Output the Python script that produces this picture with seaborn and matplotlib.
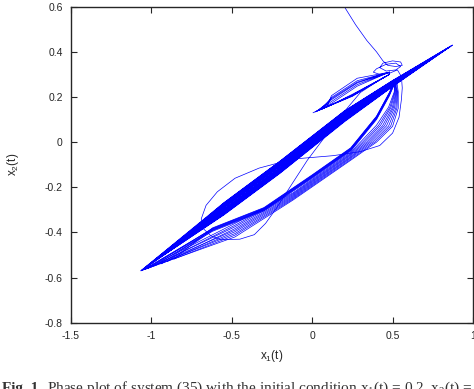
import matplotlib
matplotlib.use("Agg")
import matplotlib.pyplot as plt
import seaborn as sns

# ---------------- data ----------------
# main (dense) band: hairpins between lower-left tip and upper-right tip
main_mid_x = [-0.55, -0.20, 0.20, 0.50]
main_ll_x = [-1.065, -1.03, -0.99, -1.05, -0.95, -1.01, -0.92, -1.04, -0.97, -0.88, -1.06, -1.00]
main_ll_y = [-0.570, -0.552, -0.532, -0.562, -0.512, -0.542, -0.497, -0.557, -0.522, -0.477, -0.567, -0.537]
main_ur_x = [0.873, 0.84, 0.80, 0.86, 0.76, 0.82, 0.70, 0.85, 0.78, 0.66, 0.87, 0.81]
main_ur_y = [0.430, 0.415, 0.397, 0.424, 0.379, 0.406, 0.351, 0.420, 0.388, 0.333, 0.429, 0.401]
main_up_y = [
    [-0.273, -0.088, 0.135, 0.271],
    [-0.284, -0.099, 0.125, 0.266],
    [-0.278, -0.093, 0.130, 0.268],
    [-0.289, -0.104, 0.120, 0.263],
    [-0.270, -0.085, 0.137, 0.272],
    [-0.286, -0.101, 0.123, 0.264],
    [-0.281, -0.096, 0.128, 0.267],
    [-0.275, -0.090, 0.133, 0.270],
    [-0.292, -0.107, 0.118, 0.262],
    [-0.282, -0.097, 0.126, 0.266],
    [-0.269, -0.084, 0.138, 0.273],
    [-0.288, -0.103, 0.121, 0.264],
]
main_down_y = [
    [-0.316, -0.131, 0.097, 0.250],
    [-0.305, -0.120, 0.107, 0.255],
    [-0.321, -0.136, 0.093, 0.247],
    [-0.300, -0.115, 0.111, 0.258],
    [-0.310, -0.125, 0.102, 0.252],
    [-0.318, -0.133, 0.095, 0.248],
    [-0.302, -0.117, 0.109, 0.256],
    [-0.313, -0.128, 0.099, 0.251],
    [-0.308, -0.123, 0.104, 0.254],
    [-0.297, -0.112, 0.113, 0.259],
    [-0.323, -0.138, 0.090, 0.246],
    [-0.306, -0.121, 0.105, 0.254],
]

# lower (hatched) band: hairpins turning in the arch near (0.52, 0.27)
lower_start_x = [-1.06, -0.98, -1.02, -0.90, -1.04, -0.94, -1.00, -0.86, -1.05]
lower_start_y = [-0.569, -0.548, -0.559, -0.528, -0.564, -0.539, -0.553, -0.518, -0.566]
lower_left_x = [-0.62, -0.30, 0.00, 0.24, 0.40, 0.48]
lower_left_y = [
    [-0.385, -0.295, -0.150, -0.030, 0.110, 0.215],
    [-0.389, -0.299, -0.154, -0.034, 0.106, 0.211],
    [-0.382, -0.292, -0.147, -0.027, 0.113, 0.218],
    [-0.392, -0.302, -0.157, -0.037, 0.103, 0.208],
    [-0.383, -0.293, -0.148, -0.028, 0.112, 0.217],
    [-0.387, -0.297, -0.152, -0.032, 0.108, 0.213],
    [-0.395, -0.305, -0.160, -0.040, 0.100, 0.205],
    [-0.380, -0.290, -0.145, -0.025, 0.115, 0.220],
    [-0.390, -0.300, -0.155, -0.035, 0.105, 0.210],
]
lower_top_x = [0.515, 0.510, 0.520, 0.505, 0.518, 0.512, 0.522, 0.508, 0.525]
lower_top_y = [0.272, 0.268, 0.274, 0.265, 0.270, 0.270, 0.276, 0.266, 0.275]
lower_right = [
    [(0.510, 0.222), (0.475, 0.155), (0.400, 0.075), (0.300, 0.0), (0.240, -0.045), (-0.120, -0.225), (-0.480, -0.360)],
    [(0.513, 0.222), (0.483, 0.154), (0.413, 0.074), (0.313, 0.0), (0.240, -0.050), (-0.120, -0.229), (-0.480, -0.368)],
    [(0.516, 0.222), (0.490, 0.154), (0.425, 0.074), (0.325, 0.0), (0.240, -0.054), (-0.120, -0.233), (-0.480, -0.375)],
    [(0.520, 0.222), (0.498, 0.153), (0.438, 0.073), (0.338, 0.0), (0.240, -0.058), (-0.120, -0.237), (-0.480, -0.383)],
    [(0.523, 0.222), (0.505, 0.153), (0.450, 0.073), (0.350, 0.0), (0.240, -0.063), (-0.120, -0.241), (-0.480, -0.390)],
    [(0.526, 0.222), (0.512, 0.152), (0.462, 0.072), (0.362, 0.0), (0.240, -0.067), (-0.120, -0.245), (-0.480, -0.397)],
    [(0.529, 0.222), (0.520, 0.151), (0.475, 0.071), (0.375, 0.0), (0.240, -0.071), (-0.120, -0.249), (-0.480, -0.405)],
    [(0.532, 0.222), (0.527, 0.151), (0.488, 0.071), (0.388, 0.0), (0.240, -0.076), (-0.120, -0.253), (-0.480, -0.412)],
    [(0.535, 0.222), (0.535, 0.150), (0.500, 0.070), (0.400, 0.0), (0.240, -0.080), (-0.120, -0.257), (-0.480, -0.420)],
]

# small feather pointing to (0, 0.13)
feather_tip_x = [0.005, 0.030, 0.060, 0.020, 0.090, 0.045]
feather_tip_y = [0.130, 0.138, 0.146, 0.134, 0.155, 0.142]
feather_low_y = [0.203, 0.206, 0.209, 0.205, 0.212, 0.208]   # at x = 0.25
feather_up1_y = [0.172, 0.188, 0.198, 0.180, 0.206, 0.193]   # at x = 0.12
feather_up2_y = [0.248, 0.262, 0.272, 0.255, 0.283, 0.266]   # at x = 0.28

# transient from the initial condition
trans_x = [0.20, 0.27, 0.34, 0.40, 0.44, 0.47, 0.52, 0.56, 0.55, 0.50, 0.44, 0.42, 0.46, 0.52,
           0.55, 0.52, 0.46, 0.40, 0.38, 0.42, 0.48, 0.53, 0.555, 0.56, 0.555, 0.54, 0.50, 0.42,
           0.30, 0.13, -0.12, -0.33, -0.48, -0.59, -0.66, -0.69, -0.675, -0.63, -0.57, -0.45,
           -0.36, -0.29, -0.22, -0.13, -0.03, 0.17, 0.30, 0.45]
trans_y = [0.60, 0.52, 0.45, 0.40, 0.36, 0.34, 0.335, 0.34, 0.355, 0.36, 0.35, 0.33, 0.315, 0.32,
           0.335, 0.35, 0.345, 0.325, 0.31, 0.30, 0.305, 0.32, 0.29, 0.24, 0.19, 0.11, 0.04, -0.015,
           -0.042, -0.06, -0.075, -0.115, -0.16, -0.22, -0.28, -0.34, -0.385, -0.415, -0.432, -0.43,
           -0.41, -0.36, -0.29, -0.19, -0.08, 0.11, 0.22, 0.29]

x_ticks = [-1.5, -1, -0.5, 0, 0.5, 1]
x_tick_labels = ["-1.5", "-1", "-0.5", "0", "0.5", "1"]
y_ticks = [-0.8, -0.6, -0.4, -0.2, 0, 0.2, 0.4, 0.6]
y_tick_labels = ["-0.8", "-0.6", "-0.4", "-0.2", "0", "0.2", "0.4", "0.6"]

# ---------------- build paths from the data ----------------
paths = []
mx, my = [], []
for k in range(len(main_ll_x)):
    mx.append(main_ll_x[k]); my.append(main_ll_y[k])
    mx += main_mid_x; my += main_up_y[k]
    mx.append(main_ur_x[k]); my.append(main_ur_y[k])
    mx += main_mid_x[::-1]; my += main_down_y[k][::-1]
mx.append(main_ll_x[0]); my.append(main_ll_y[0])
paths.append((mx, my, 0.6))

for k in range(len(lower_start_x)):
    px = [lower_start_x[k]] + lower_left_x + [lower_top_x[k]] + [p[0] for p in lower_right[k]] + [lower_start_x[k]]
    py = [lower_start_y[k]] + lower_left_y[k] + [lower_top_y[k]] + [p[1] for p in lower_right[k]] + [lower_start_y[k]]
    paths.append((px, py, 0.5))

fx, fy = [], []
for k in range(len(feather_tip_x)):
    fx += [0.48, 0.25, feather_tip_x[k], 0.12, 0.28, 0.48]
    fy += [0.300, feather_low_y[k], feather_tip_y[k], feather_up1_y[k], feather_up2_y[k], 0.310]
paths.append((fx, fy, 0.5))
paths.append((trans_x, trans_y, 0.5))

# ---------------- draw ----------------
sns.set_style("ticks")
plt.rcParams["font.family"] = ["Liberation Sans", "DejaVu Sans"]
plt.rcParams["mathtext.default"] = "regular"
plt.rcParams["axes.unicode_minus"] = False

fig = plt.figure(figsize=(4.74, 3.89), dpi=100)
ax = fig.add_axes([71 / 474, 1 - 322.7 / 389, 402 / 474, 316 / 389])

for px, py, w in paths:
    sns.lineplot(x=px, y=py, sort=False, estimator=None, ax=ax, color="#0000ff", lw=w)

ax.set_xlim(-1.5, 1)
ax.set_ylim(-0.8, 0.6)
ax.set_xticks(x_ticks)
ax.set_xticklabels(x_tick_labels)
ax.set_yticks(y_ticks)
ax.set_yticklabels(y_tick_labels)
ax.tick_params(direction="in", top=True, right=True, length=4, width=0.8,
               labelsize=7.5, pad=6, colors="#262626")
for s in ax.spines.values():
    s.set_visible(True)
    s.set_linewidth(1.0)
    s.set_color("#262626")

ax.set_xlabel("x$_1$(t)", fontsize=8.5, color="#262626", va="center")
ax.set_ylabel("x$_2$(t)", fontsize=8.5, color="#262626", va="center")
ax.xaxis.set_label_coords(0.5, -(356 - 322.7) / 316)
ax.yaxis.set_label_coords((13 - 71) / 402, 0.5)

base = (389 - 391.6) / 389
fig.text(2 / 474, base, "Fig. 1", fontsize=11, fontweight="bold",
         family="Liberation Serif", va="baseline", color="#333333")
fig.text(47 / 474, base, "Phase plot of system (35) with the initial condition x$_1$(t) = 0.2, x$_2$(t) = 0.6",
         fontsize=11, family="Liberation Serif", va="baseline", color="#333333")

fig.savefig("out.png", dpi=100)
